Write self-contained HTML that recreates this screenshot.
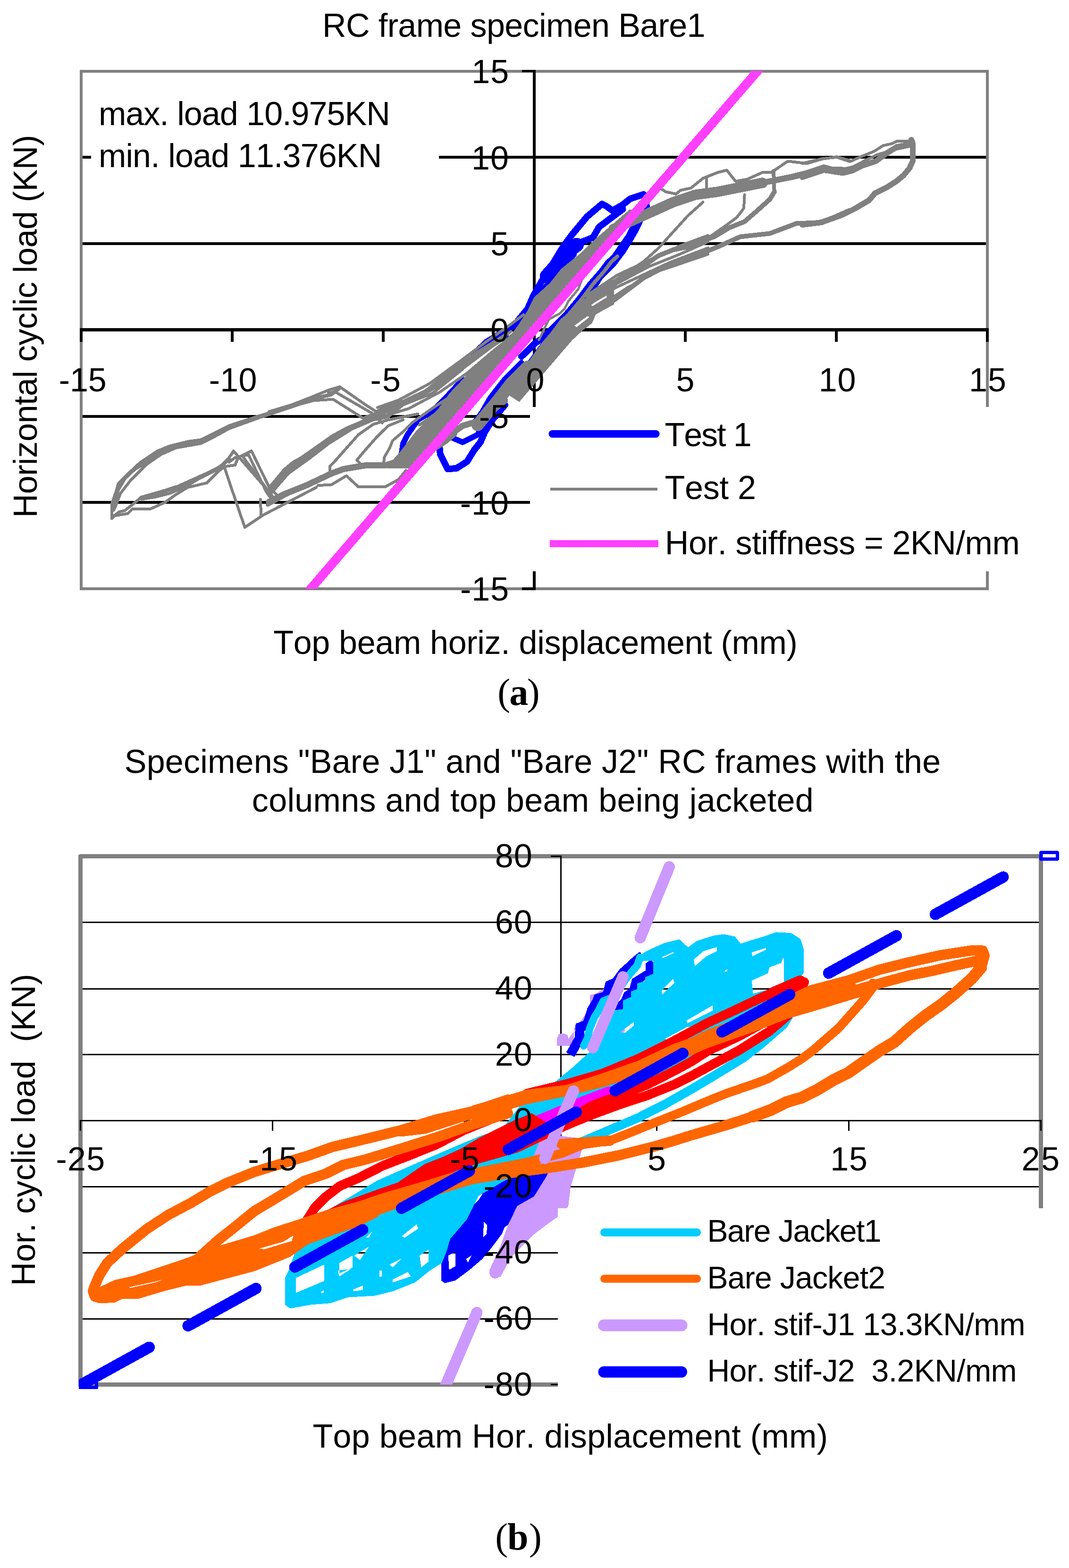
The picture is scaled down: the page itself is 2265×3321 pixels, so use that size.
<!DOCTYPE html>
<html lang="en"><head><meta charset="utf-8"><title>RC frame specimens - horizontal cyclic load vs displacement</title>
<style>
html,body{margin:0;padding:0;background:#fff;}
body{width:2265px;height:3321px;overflow:hidden;}
svg{display:block;font-family:'Liberation Sans', Arial, Helvetica, sans-serif;}
</style></head><body>
<svg xmlns="http://www.w3.org/2000/svg" width="2265" height="3321" viewBox="0 0 2265 3321">
<defs>
<pattern id="pk" width="4" height="2" patternUnits="userSpaceOnUse"><rect width="4" height="2" fill="#ff00ff"/><rect x="0" y="0" width="1" height="1" fill="#fff"/><rect x="2" y="1" width="1" height="1" fill="#fff"/></pattern>
<clipPath id="clipA"><rect x="175" y="150.5" width="1914" height="1096.5"/></clipPath>
<clipPath id="clipB"><rect x="175" y="1813.5" width="2026" height="1119"/></clipPath>
<clipPath id="clipD"><rect x="167" y="1790" width="2098" height="1152"/></clipPath>
</defs>
<rect x="0" y="0" width="2265" height="3321" fill="#fff"/>
<g id="chart-a" shape-rendering="crispEdges" style="font-kerning:none">
<rect x="169.00" y="147.50" width="6.00" height="1102.50" fill="#808080"/>
<rect x="169.00" y="147.50" width="1926.00" height="6.00" fill="#808080"/>
<rect x="169.00" y="1244.00" width="1926.00" height="6.00" fill="#808080"/>
<rect x="2089.00" y="147.50" width="6.00" height="1102.50" fill="#808080"/>
<rect x="175.00" y="330.25" width="1914.00" height="6.00" fill="#000"/>
<rect x="175.00" y="513.00" width="1914.00" height="6.00" fill="#000"/>
<rect x="175.00" y="878.50" width="1914.00" height="6.00" fill="#000"/>
<rect x="175.00" y="1061.25" width="1914.00" height="6.00" fill="#000"/>
<rect x="169.00" y="695.45" width="1926.00" height="6.60" fill="#000"/>
<rect x="169.20" y="698.75" width="6.00" height="25.55" fill="#000"/>
<rect x="489.30" y="698.75" width="6.00" height="25.55" fill="#000"/>
<rect x="809.30" y="698.75" width="6.00" height="25.55" fill="#000"/>
<rect x="1129.30" y="698.75" width="6.00" height="25.55" fill="#000"/>
<rect x="1449.30" y="698.75" width="6.00" height="25.55" fill="#000"/>
<rect x="1769.30" y="698.75" width="6.00" height="25.55" fill="#000"/>
<rect x="2089.30" y="698.75" width="6.00" height="25.55" fill="#000"/>
<rect x="1129.00" y="148.00" width="6.00" height="1102.00" fill="#000"/>
<rect x="1106.00" y="147.75" width="29.00" height="5.50" fill="#000"/>
<rect x="1106.00" y="1244.00" width="29.00" height="6.00" fill="#000"/>
<g clip-path="url(#clipA)">
<polyline points="850.8,961.8 853.9,939.7 863.4,920.8 885.5,889.3 917.0,870.3 942.2,845.1 980.1,804.1" fill="none" stroke="#0000ff" stroke-width="12" stroke-linejoin="round" stroke-linecap="round" />
<polyline points="863.4,958.7 885.5,939.7 917.0,917.7 942.2,895.6" fill="none" stroke="#0000ff" stroke-width="10" stroke-linejoin="round" stroke-linecap="round" />
<polyline points="926.5,898.7 932.8,961.8 948.5,993.4 967.5,991.8 989.6,977.6 1005.3,952.4 1017.9,936.6 1027.4,914.5 1043.2,889.3 1070.0,857.7" fill="none" stroke="#0000ff" stroke-width="14" stroke-linejoin="round" stroke-linecap="round" />
<polyline points="926.5,898.7 954.9,895.6 958.0,927.1 980.1,936.6 1011.6,920.8 1027.4,889.3 1070.0,832.5" fill="none" stroke="#0000ff" stroke-width="12" stroke-linejoin="round" stroke-linecap="round" />
<polyline points="1004.1,749.1 1032.5,723.8 1057.7,708.1 1089.3,689.1 1117.7,654.4 1130.3,626.1 1155.5,581.9 1174.4,553.5 1193.4,522.0 1212.3,496.7 1243.8,458.9 1275.4,432.1 1284.9,436.8 1297.5,446.2 1319.6,433.6 1335.3,421.0 1363.7,411.5 1370.0,436.8 1347.9,484.1 1335.3,506.2 1319.6,531.4 1300.6,556.7 1272.2,585.0 1243.8,629.2 1215.5,651.3 1183.9,682.8 1152.4,714.4 1133.4,727.0 1105.0,755.1" fill="none" stroke="#0000ff" stroke-width="14" stroke-linejoin="round" stroke-linecap="round" />
<polyline points="1193.4,522.0 1224.9,515.6 1256.5,503.0 1269.1,480.9 1294.3,462.0 1319.6,443.1" fill="none" stroke="#0000ff" stroke-width="14" stroke-linejoin="round" stroke-linecap="round" />
<polyline points="1158.7,585.0 1183.9,556.7 1209.1,528.3 1221.8,518.8" fill="none" stroke="#0000ff" stroke-width="30" stroke-linejoin="round" stroke-linecap="round" />
<polyline points="1120.8,657.6 1152.4,613.4 1183.9,575.6 1215.5,537.7" fill="none" stroke="#0000ff" stroke-width="14" stroke-linejoin="round" stroke-linecap="round" />
<polyline points="1120.0,770.0 1156.9,720.0 1181.0,683.9 1203.9,658.0 1226.6,630.9 1249.3,600.6 1272.0,574.8 1287.0,555.0 1300.0,543.0 1330.0,500.0 1350.0,460.0" fill="none" stroke="#0000ff" stroke-width="9" stroke-linejoin="round" stroke-linecap="round" />
<polyline points="1007.6,746.1 1029.7,724.0 1056.2,708.5 1073.8,715.1" fill="none" stroke="#0000ff" stroke-width="12" stroke-linejoin="round" stroke-linecap="round" />
<polyline points="1104.7,768.1 1069.4,803.5 1038.5,843.2 1020.8,874.1 1007.6,891.8" fill="none" stroke="#0000ff" stroke-width="12" stroke-linejoin="round" stroke-linecap="round" />
<polyline points="237.2,1098.0 237.2,1065.5 245.7,1041.8 250.4,1024.5 274.1,1000.8 296.2,980.3 334.0,955.1 359.3,944.7 400.3,934.6 425.5,931.4 447.6,920.4 485.5,901.5 548.5,880.9 611.6,862.6 670.0,841.5" fill="none" stroke="#808080" stroke-width="6" stroke-linejoin="round" stroke-linecap="round" />
<polyline points="243.2,1076.5 255.2,1045.0 277.3,1016.6 308.8,985.0 340.3,963.0 371.9,948.8 425.5,939.3 453.9,925.1 485.5,907.8 548.5,885.0 670.0,844.7" fill="none" stroke="#808080" stroke-width="6" stroke-linejoin="round" stroke-linecap="round" />
<polyline points="237.2,1098.0 239.4,1093.9 252.0,1084.4 264.6,1081.3 286.7,1063.9 299.3,1052.9 343.5,1040.3 378.2,1029.2 409.7,1015.0 441.3,1000.8 466.5,988.2 485.5,969.3 494.9,955.1 567.5,1038.7 580.1,1057.6" fill="none" stroke="#808080" stroke-width="6" stroke-linejoin="round" stroke-linecap="round" />
<polyline points="237.2,1098.0 242.6,1092.3 270.9,1087.6 280.4,1078.1 318.3,1078.1 349.8,1063.9 371.9,1048.1 397.1,1032.4 438.1,1022.9 463.4,997.7 476.0,988.2 498.1,985.0 504.4,969.3 532.8,955.1 570.6,1032.4 592.7,1054.4" fill="none" stroke="#808080" stroke-width="6" stroke-linejoin="round" stroke-linecap="round" />
<polyline points="299.3,1057.6 327.7,1052.9 359.3,1045.0 390.8,1032.4 422.4,1013.4 453.9,997.7 472.8,985.0 494.9,956.7" fill="none" stroke="#808080" stroke-width="6" stroke-linejoin="round" stroke-linecap="round" />
<polyline points="476.0,991.4 518.6,1116.9 558.0,1090.7 670.0,1032.4" fill="none" stroke="#808080" stroke-width="6" stroke-linejoin="round" stroke-linecap="round" />
<polyline points="551.7,1057.6 553.3,1092.3" fill="none" stroke="#808080" stroke-width="6" stroke-linejoin="round" stroke-linecap="round" />
<polyline points="567.5,1068.6 611.6,1045.0 670.0,1016.6" fill="none" stroke="#808080" stroke-width="9" stroke-linejoin="round" stroke-linecap="round" />
<polyline points="570.6,1032.4 602.2,994.5 621.1,978.7 670.0,951.9" fill="none" stroke="#808080" stroke-width="6" stroke-linejoin="round" stroke-linecap="round" />
<polyline points="513.8,966.1 576.9,1051.3" fill="none" stroke="#808080" stroke-width="6" stroke-linejoin="round" stroke-linecap="round" />
<polyline points="485.5,978.7 498.1,969.3 526.5,963.0 564.3,1041.8 580.1,1063.9" fill="none" stroke="#808080" stroke-width="6" stroke-linejoin="round" stroke-linecap="round" />
<polyline points="570.0,871.9 617.3,857.7 661.5,840.4 696.2,826.2 719.8,819.2 775.0,857.7 797.1,871.9 828.7,856.2 853.9,851.4 901.2,829.3 948.5,794.6 1011.6,747.3 1070.0,709.5" fill="none" stroke="#808080" stroke-width="6" stroke-linejoin="round" stroke-linecap="round" />
<polyline points="570.0,878.2 617.3,860.9 664.6,848.3 705.6,845.7 775.0,889.3 797.1,883.0 822.4,870.3 869.7,851.4 917.0,823.0 980.1,775.7 1070.0,715.8" fill="none" stroke="#808080" stroke-width="6" stroke-linejoin="round" stroke-linecap="round" />
<polyline points="696.2,832.5 708.8,829.3 790.8,876.7 809.7,895.6" fill="none" stroke="#808080" stroke-width="6" stroke-linejoin="round" stroke-linecap="round" />
<polyline points="570.0,1040.7 607.9,990.2 648.9,961.8 702.5,924.0 734.0,906.6 775.0,889.3 803.4,886.1 828.7,857.7" fill="none" stroke="#808080" stroke-width="6" stroke-linejoin="round" stroke-linecap="round" />
<polyline points="570.0,1050.2 611.0,1002.8 655.2,971.3 696.2,939.7 746.7,908.2 790.8,889.3 822.4,883.0 853.9,857.7 917.0,832.5 980.1,782.0" fill="none" stroke="#808080" stroke-width="6" stroke-linejoin="round" stroke-linecap="round" />
<polyline points="699.3,1002.8 699.3,987.1 708.8,977.6 734.0,949.2 759.3,920.8 790.8,898.7 822.4,889.3 853.9,883.0 885.5,876.7" fill="none" stroke="#808080" stroke-width="6" stroke-linejoin="round" stroke-linecap="round" />
<polyline points="762.4,980.8 756.1,974.4 771.9,955.5 797.1,927.1 822.4,901.9 853.9,889.3" fill="none" stroke="#808080" stroke-width="6" stroke-linejoin="round" stroke-linecap="round" />
<polyline points="812.9,980.8 814.5,968.1 825.5,949.2 831.8,933.4 853.9,914.5 872.8,895.6 917.0,864.0 961.2,835.6 1011.6,778.9" fill="none" stroke="#808080" stroke-width="6" stroke-linejoin="round" stroke-linecap="round" />
<polyline points="570.0,1062.8 601.5,1047.0 648.9,1028.1 702.5,1002.8 727.7,993.4 775.0,985.5 816.1,985.5 853.9,974.4 872.8,965.0" fill="none" stroke="#808080" stroke-width="13" stroke-linejoin="round" stroke-linecap="round" />
<polyline points="674.1,1028.1 702.5,1026.5 734.0,1007.6 759.3,1031.2 816.1,1031.2 844.4,1015.5 860.2,996.5" fill="none" stroke="#808080" stroke-width="6" stroke-linejoin="round" stroke-linecap="round" />
<polyline points="920.2,920.8 920.2,898.7 942.2,876.7 945.4,860.9 964.3,835.6" fill="none" stroke="#808080" stroke-width="6" stroke-linejoin="round" stroke-linecap="round" />
<polyline points="958.0,917.7 980.1,901.9 1011.6,892.4 1043.2,870.3 1070.0,848.3" fill="none" stroke="#808080" stroke-width="13" stroke-linejoin="round" stroke-linecap="round" />
<path d="M880.0,990.0 L820.0,990.0 L850.0,956.5 L881.5,915.5 L928.9,868.0 L954.0,833.4 L985.6,800.0 L1010.0,775.0 L1040.0,748.0 L1075.1,720.0 L1097.9,691.4 L1117.5,661.1 L1132.7,630.9 L1166.0,600.6 L1190.2,570.3 L1228.0,540.0 L1265.0,505.0 L1300.0,475.0 L1335.0,445.0 L1350.7,445.0 L1065.8,775.0Z" fill="#808080" fill-rule="evenodd" stroke="#808080" stroke-width="3" stroke-linejoin="round"/>
<polyline points="1141.8,720.0 1163.0,676.3 1185.7,664.2 1196.3,653.6 1203.9,638.4 1225.0,612.7 1234.0,590.0 1249.3,570.3 1270.0,540.0 1290.0,505.0 1310.0,470.0" fill="none" stroke="#808080" stroke-width="5" stroke-linejoin="round" stroke-linecap="round" />
<polyline points="1164.9,720.0 1189.0,683.9 1211.9,658.0 1234.6,630.9 1257.3,600.6 1280.0,574.8 1295.0,555.0 1308.0,543.0" fill="none" stroke="#808080" stroke-width="8" stroke-linejoin="round" stroke-linecap="round" />
<path d="M1070.0,830.0 L1100.0,795.0 L1125.0,760.0 L1150.0,725.0 L1166.0,706.6 L1188.7,676.3 L1211.4,658.1 L1235.7,636.9 L1256.9,618.7 L1279.6,603.6 L1300.0,593.0 L1300.0,644.5 L1279.6,655.0 L1261.4,665.7 L1253.8,683.9 L1234.0,699.0 L1211.4,720.0 L1190.0,745.0 L1160.0,780.0 L1130.0,815.0 L1100.0,850.0Z M1215.0,690.0 L1245.0,668.0 L1250.0,672.0 L1222.0,694.0Z M1250.0,645.0 L1285.0,625.0 L1287.0,630.0 L1255.0,650.0Z" fill="#808080" fill-rule="evenodd" stroke="#808080" stroke-width="2" stroke-linejoin="round"/>
<polyline points="1300.0,485.0 1363.1,456.7 1426.2,428.3 1473.5,412.5 1520.8,406.2 1568.1,396.7 1615.5,387.3" fill="none" stroke="#808080" stroke-width="22" stroke-linejoin="round" stroke-linecap="round" />
<polyline points="1615.5,387.3 1678.5,374.6 1741.6,358.9 1800.0,360.4" fill="none" stroke="#808080" stroke-width="13" stroke-linejoin="round" stroke-linecap="round" />
<polyline points="1400.9,399.9 1410.4,406.2 1432.5,410.9 1442.0,403.0 1464.0,398.3 1489.3,377.8 1520.8,365.2 1539.7,360.4 1558.7,384.1 1583.9,379.4 1615.5,365.2 1634.4,365.2 1669.1,341.5 1710.1,346.2 1741.6,336.8 1773.2,332.1 1800.0,339.9" fill="none" stroke="#808080" stroke-width="6" stroke-linejoin="round" stroke-linecap="round" />
<polyline points="1497.2,374.6 1497.2,412.5" fill="none" stroke="#808080" stroke-width="6" stroke-linejoin="round" stroke-linecap="round" />
<polyline points="1639.1,362.0 1640.7,406.2 1631.2,422.0 1599.7,450.3 1577.6,469.3 1546.1,481.9 1514.5,500.8 1489.3,510.3 1457.7,522.9 1426.2,529.2 1394.6,541.8 1363.1,563.9 1300.0,598.6" fill="none" stroke="#808080" stroke-width="8" stroke-linejoin="round" stroke-linecap="round" />
<polyline points="1577.6,412.5 1576.0,440.9 1561.8,459.8 1536.6,478.7 1505.0,500.8" fill="none" stroke="#808080" stroke-width="6" stroke-linejoin="round" stroke-linecap="round" />
<polyline points="1489.3,428.3 1457.7,456.7 1426.2,491.4 1394.6,526.1 1363.1,554.4 1300.0,595.5" fill="none" stroke="#808080" stroke-width="6" stroke-linejoin="round" stroke-linecap="round" />
<polyline points="1800.0,447.2 1741.6,472.4 1688.0,472.4 1631.2,494.5 1568.1,500.8 1520.8,522.9 1457.7,548.1 1410.4,563.9 1363.1,589.1 1300.0,636.5" fill="none" stroke="#808080" stroke-width="8" stroke-linejoin="round" stroke-linecap="round" />
<polyline points="1700.0,346.1 1742.9,336.0 1773.2,333.0 1800.9,342.3 1826.2,330.9 1851.4,320.9 1871.6,308.2 1889.3,304.4 1901.9,298.6 1927.1,298.6" fill="none" stroke="#808080" stroke-width="6" stroke-linejoin="round" stroke-linecap="round" />
<polyline points="1700.0,375.1 1745.4,360.0 1785.8,366.3 1806.0,361.2 1826.2,351.1 1856.5,341.0 1876.7,325.9 1896.8,313.3 1927.1,307.0 1933.4,300.7" fill="none" stroke="#808080" stroke-width="12" stroke-linejoin="round" stroke-linecap="round" />
<polyline points="1700.0,366.3 1745.4,351.1 1778.2,360.0 1806.0,353.7 1831.2,341.0 1856.5,328.4 1876.7,322.1 1899.4,308.2 1927.1,303.2" fill="none" stroke="#808080" stroke-width="6" stroke-linejoin="round" stroke-linecap="round" />
<polyline points="1930.9,296.1 1933.9,304.4 1933.9,341.0 1927.1,356.2 1914.5,371.3 1899.4,383.9 1879.2,396.6 1853.9,409.2 1841.3,424.3 1811.0,442.0 1785.8,454.6 1740.4,471.0 1700.0,476.1" fill="none" stroke="#808080" stroke-width="12" stroke-linejoin="round" stroke-linecap="round" />
<polyline points="800.0,863.1 844.2,847.6 910.4,812.3 976.7,763.7 1029.7,724.0 1073.8,693.1 1109.1,666.6" fill="none" stroke="#808080" stroke-width="6" stroke-linejoin="round" stroke-linecap="round" />
<polyline points="800.0,874.1 853.0,856.5 914.8,825.6 985.5,777.0 1038.5,737.2 1082.6,701.9" fill="none" stroke="#808080" stroke-width="6" stroke-linejoin="round" stroke-linecap="round" />
<polyline points="800.0,885.2 866.2,865.3 932.5,830.0 989.9,790.2 1047.3,741.6 1091.5,706.3" fill="none" stroke="#808080" stroke-width="6" stroke-linejoin="round" stroke-linecap="round" />
<polyline points="888.3,900.2 932.5,869.7 967.8,830.0 1007.6,785.8 1047.3,746.1 1082.6,710.7" fill="none" stroke="#808080" stroke-width="6" stroke-linejoin="round" stroke-linecap="round" />
<polyline points="1219.6,666.6 1285.8,618.0 1352.1,587.1 1418.3,556.2 1500.0,525.2" fill="none" stroke="#808080" stroke-width="6" stroke-linejoin="round" stroke-linecap="round" />
<polyline points="1241.6,644.5 1307.9,600.3 1374.1,565.0 1440.4,538.5 1500.0,512.0" fill="none" stroke="#808080" stroke-width="6" stroke-linejoin="round" stroke-linecap="round" />
<polyline points="1197.5,697.5 1263.7,653.3 1330.0,609.1 1396.2,573.8 1500.0,538.5" fill="none" stroke="#808080" stroke-width="6" stroke-linejoin="round" stroke-linecap="round" />
<polyline points="1241.6,626.8 1307.9,582.6 1374.1,551.7 1440.4,520.8 1500.0,498.7" fill="none" stroke="#808080" stroke-width="6" stroke-linejoin="round" stroke-linecap="round" />
<polyline points="1118.0,777.0 1082.6,812.3 1051.7,852.1 1029.7,878.5 1012.0,900.2" fill="none" stroke="#808080" stroke-width="26" stroke-linejoin="round" stroke-linecap="round" />
<polyline points="240.0,1079.7 242.6,1057.6 250.4,1035.5 264.6,1011.9 286.7,991.4 305.6,981.9 337.2,958.9 365.6,946.6 400.3,936.8 425.5,935.2 450.8,922.6 485.5,904.6 548.5,882.8 611.6,862.6 670.0,843.1" fill="none" stroke="#808080" stroke-width="9" stroke-linejoin="round" stroke-linecap="round" />
<polyline points="299.3,1054.4 343.5,1042.5 378.2,1030.8 409.7,1016.6 441.3,1002.4 466.5,988.8 485.5,972.4" fill="none" stroke="#808080" stroke-width="8" stroke-linejoin="round" stroke-linecap="round" />
<polyline points="570.0,1045.4 609.4,996.5 652.0,966.6 699.3,931.9 740.3,907.3 784.5,889.3 816.1,883.6 847.6,857.7 885.5,842.0 948.5,791.5 1011.6,747.3" fill="none" stroke="#808080" stroke-width="8" stroke-linejoin="round" stroke-linecap="round" />
<polyline points="570.0,875.1 617.3,859.3 663.1,844.5 700.9,836.0 718.3,823.0" fill="none" stroke="#808080" stroke-width="8" stroke-linejoin="round" stroke-linecap="round" />
<polyline points="853.9,977.6 885.5,965.0 917.0,949.2 942.2,933.4 961.2,917.7" fill="none" stroke="#808080" stroke-width="16" stroke-linejoin="round" stroke-linecap="round" />
<polyline points="771.9,886.1 797.1,876.7 828.7,857.7 853.9,851.4 901.2,829.3 948.5,794.6 1011.6,747.3 1070.0,711.0" fill="none" stroke="#808080" stroke-width="9" stroke-linejoin="round" stroke-linecap="round" />
<polyline points="1800.0,445.6 1741.6,471.5 1688.0,473.1 1631.2,494.5 1568.1,501.5 1520.8,522.9 1457.7,548.1 1410.4,563.9 1363.1,589.1 1300.0,636.5" fill="none" stroke="#808080" stroke-width="10" stroke-linejoin="round" stroke-linecap="round" />
<polyline points="1640.7,406.2 1631.2,422.0 1599.7,450.3 1577.6,469.3 1546.1,481.9 1514.5,500.8 1489.3,510.3 1457.7,522.9 1426.2,529.2 1394.6,541.8 1363.1,563.9 1300.0,598.6" fill="none" stroke="#808080" stroke-width="10" stroke-linejoin="round" stroke-linecap="round" />
<line x1="611.9" y1="1300.6" x2="1651.9" y2="96.2" stroke="url(#pk)" stroke-width="19"/>
</g>
<rect x="193" y="195" width="737" height="185" fill="#fff"/>
<rect x="1122.5" y="862" width="1100" height="348" fill="#fff"/>
<line x1="1170.5" y1="919" x2="1389.5" y2="919" stroke="#0000ff" stroke-width="16" stroke-linecap="round" shape-rendering="auto"/>
<rect x="1166.00" y="1033.00" width="227.00" height="6.00" fill="#808080"/>
<rect x="1165" y="1143.5" width="230" height="15.5" fill="url(#pk)"/>
</g>
<g id="labels-a" fill="#000" style="font-kerning:none">
<text x="683.06" y="78.00" font-size="70" letter-spacing="-0.604" xml:space="preserve" >RC frame specimen Bare1</text>
<text x="208.95" y="265.00" font-size="70" letter-spacing="-0.966" xml:space="preserve" >max. load 10.975KN</text>
<text x="208.95" y="353.60" font-size="70" letter-spacing="-0.857" xml:space="preserve" >min. load 11.376KN</text>
<text x="999.28" y="175.80" font-size="70" letter-spacing="1.000" xml:space="preserve" >15</text>
<text x="999.07" y="358.55" font-size="70" letter-spacing="1.000" xml:space="preserve" >10</text>
<text x="1039.21" y="541.30" font-size="70" letter-spacing="0.000" xml:space="preserve" >5</text>
<text x="1039.00" y="724.05" font-size="70" letter-spacing="0.000" xml:space="preserve" >0</text>
<text x="1014.90" y="906.80" font-size="70" letter-spacing="1.000" xml:space="preserve" >-5</text>
<text x="974.76" y="1089.55" font-size="70" letter-spacing="1.000" xml:space="preserve" >-10</text>
<text x="974.97" y="1272.30" font-size="70" letter-spacing="1.000" xml:space="preserve" >-15</text>
<text x="124.69" y="828.50" font-size="70" letter-spacing="-0.111" xml:space="preserve" >-15</text>
<text x="442.69" y="828.50" font-size="70" letter-spacing="0.286" xml:space="preserve" >-10</text>
<text x="784.39" y="828.50" font-size="70" letter-spacing="2.309" xml:space="preserve" >-5</text>
<text x="1114.40" y="828.50" font-size="70" letter-spacing="0.000" xml:space="preserve" >0</text>
<text x="1432.51" y="828.50" font-size="70" letter-spacing="0.000" xml:space="preserve" >5</text>
<text x="1734.67" y="828.50" font-size="70" letter-spacing="1.000" xml:space="preserve" >10</text>
<text x="2053.08" y="828.50" font-size="70" letter-spacing="1.000" xml:space="preserve" >15</text>
<text x="1408.43" y="945.10" font-size="70" letter-spacing="-2.045" xml:space="preserve" >Test 1</text>
<text x="1408.43" y="1057.20" font-size="70" letter-spacing="-0.225" xml:space="preserve" >Test 2</text>
<text x="1408.86" y="1174.00" font-size="70" letter-spacing="-0.391" xml:space="preserve" >Hor. stiffness = 2KN/mm</text>
<text x="579.23" y="1385.10" font-size="70" letter-spacing="-0.308" xml:space="preserve" >Top beam horiz. displacement (mm)</text>
<text x="-1096.54" y="78.00" font-size="70" letter-spacing="-0.381" xml:space="preserve" transform="rotate(-90)" >Horizontal cyclic load (KN)</text>
<text font-family="'Liberation Serif', 'Times New Roman', serif" font-size="80.5" y="1492.7"><tspan x="1054.3">(</tspan><tspan x="1079.2" y="1492.7" font-weight="bold" font-size="80">a</tspan><tspan x="1116.7" y="1492.7">)</tspan></text>
</g>
<g shape-rendering="crispEdges">
<rect x="2089.00" y="760.00" width="6.00" height="102.00" fill="#808080"/>
</g>
<g id="chart-b" shape-rendering="crispEdges" style="font-kerning:none">
<path d="M170.5,2937.0 V1813.5 H2209.9" fill="none" stroke="#808080" stroke-width="9" stroke-linejoin="round"/>
<rect x="166.00" y="2928.00" width="2043.90" height="9.00" fill="#808080"/>
<rect x="2200.90" y="1809.00" width="9.00" height="1128.00" fill="#808080"/>
<rect x="175.00" y="1952.00" width="2026.00" height="3.00" fill="#000"/>
<rect x="175.00" y="2093.00" width="2026.00" height="3.00" fill="#000"/>
<rect x="175.00" y="2232.00" width="2026.00" height="3.00" fill="#000"/>
<rect x="175.00" y="2512.00" width="2026.00" height="3.00" fill="#000"/>
<rect x="175.00" y="2652.00" width="2026.00" height="3.00" fill="#000"/>
<rect x="175.00" y="2792.00" width="2026.00" height="3.00" fill="#000"/>
<rect x="169.40" y="2372.00" width="2037.60" height="3.00" fill="#000"/>
<rect x="169.20" y="2373.50" width="3.00" height="21.50" fill="#000"/>
<rect x="576.16" y="2373.50" width="3.00" height="21.50" fill="#000"/>
<rect x="983.12" y="2373.50" width="3.00" height="21.50" fill="#000"/>
<rect x="1390.08" y="2373.50" width="3.00" height="21.50" fill="#000"/>
<rect x="1797.04" y="2373.50" width="3.00" height="21.50" fill="#000"/>
<rect x="2204.10" y="2373.50" width="3.00" height="21.50" fill="#000"/>
<rect x="1186.90" y="1812.00" width="3.00" height="1123.50" fill="#000"/>
<rect x="1167.00" y="1812.00" width="22.90" height="3.00" fill="#000"/>
<rect x="1167.00" y="2931.00" width="22.90" height="3.00" fill="#000"/>
<g clip-path="url(#clipB)">
<path d="M1250.0,2131.7 L1250.0,2107.1 L1261.4,2105.2 L1282.2,2092.0 L1284.1,2109.0 L1259.5,2110.9 L1257.6,2129.8Z" fill="#cc99ff" fill-rule="evenodd"/>
<path d="M1216.0,2184.7 L1246.2,2139.3 L1246.2,2154.4 L1242.5,2167.7 L1216.0,2177.1Z" fill="#cc99ff" fill-rule="evenodd"/>
<path d="M1183.8,2190.4 L1193.2,2188.5 L1202.7,2192.3 L1204.6,2200.0 L1216.0,2184.7 L1216.0,2215.0 L1180.0,2215.0 L1180.0,2200.0Z" fill="#cc99ff" fill-rule="evenodd"/>
<path d="M1304.9,2190.4 L1323.8,2177.1 L1323.8,2184.7 L1308.7,2192.3Z" fill="#cc99ff" fill-rule="evenodd"/>
<path d="M1140.0,2400.0 L1240.0,2412.0 L1224.0,2465.0 L1209.0,2514.0 L1204.0,2556.0 L1181.0,2578.0 L1162.0,2591.0 L1128.0,2617.0 L1109.0,2636.0 L1085.0,2660.0 L1060.0,2705.0 L1040.0,2700.0 L1037.0,2690.0 L1060.0,2640.0 L1078.0,2590.0 L1070.0,2540.0 L1063.0,2500.0 L1100.0,2450.0Z" fill="#cc99ff" fill-rule="evenodd"/>
<polyline points="1208.4,2233.9 1227.3,2200.0 1229.2,2175.2 1244.4,2169.6 1253.8,2139.3 1265.2,2120.3 1267.1,2114.7 1286.0,2109.0 1291.7,2086.3 1304.9,2080.6 1320.1,2059.8 1337.1,2044.6 1342.8,2039.0 1354.1,2029.5 1361.7,2023.8" fill="none" stroke="#0000ff" stroke-width="20" stroke-linejoin="miter" stroke-linecap="butt" />
<polyline points="1286.0,2158.2 1303.0,2139.3 1312.5,2131.7 1323.8,2120.3 1329.5,2107.1 1340.9,2099.5 1346.6,2078.7 1361.7,2069.2 1376.8,2059.8 1376.8,2044.6 1384.4,2039.0" fill="none" stroke="#0000ff" stroke-width="17" stroke-linejoin="miter" stroke-linecap="butt" />
<polyline points="1356.0,2141.2 1369.3,2131.7 1392.0,2120.3" fill="none" stroke="#0000ff" stroke-width="17" stroke-linejoin="miter" stroke-linecap="butt" />
<path d="M1101.3,2522.7 L1097.5,2530.3 L1078.5,2575.7 L1063.4,2613.6 L1040.7,2643.8 L1021.8,2666.6 L995.3,2689.3 L965.0,2712.0 L942.3,2717.7 L934.7,2712.0 L934.7,2624.9 L927.1,2613.6 L957.4,2590.9 L987.7,2568.1 L1014.2,2541.6 L1033.1,2511.4 L1052.1,2492.4Z M949.8,2659.0 L965.0,2651.4 L965.0,2681.7 L951.7,2689.3Z M1025.6,2575.7 L1033.1,2568.1 L1031.2,2613.6 L1023.7,2621.1Z M1052.1,2545.4 L1057.7,2537.9 L1055.8,2587.1 L1050.2,2594.6Z M987.7,2666.6 L999.1,2659.0 L991.5,2674.1Z" fill="#0000ff" fill-rule="evenodd"/>
<path d="M1040.0,2515.0 L1064.8,2502.6 L1115.3,2482.4 L1166.0,2470.0 L1155.6,2492.5 L1130.4,2532.9 L1095.0,2553.0 L1075.0,2593.4 L1050.0,2610.0 L1020.0,2580.0Z" fill="#0000ff" fill-rule="evenodd" stroke="#0000ff" stroke-width="3" stroke-linejoin="round"/>
<path d="M1117.0,2325.0 L1175.0,2295.0 L1215.0,2262.0 L1250.0,2230.0 L1274.6,2200.0 L1282.2,2177.1 L1293.6,2158.2 L1303.0,2141.2 L1322.0,2139.3 L1322.0,2120.4 L1339.0,2112.8 L1339.0,2101.4 L1352.2,2095.7 L1352.2,2084.4 L1369.3,2078.7 L1369.3,2071.1 L1386.3,2063.6 L1386.3,2033.3 L1362.0,2033.0 L1358.0,2025.0 L1368.0,2018.0 L1382.5,2010.6 L1407.7,1999.5 L1439.3,1991.6 L1448.7,2001.0 L1458.2,2009.0 L1477.0,1994.8 L1511.8,1983.7 L1534.0,1980.6 L1556.0,1985.3 L1568.6,2001.0 L1590.7,1993.8 L1622.2,1984.3 L1644.3,1976.4 L1675.9,1978.0 L1694.8,1990.6 L1701.0,2010.6 L1701.0,2059.9 L1691.6,2072.5 L1669.6,2082.0 L1690.0,2110.0 L1629.0,2160.0 L1565.0,2195.0 L1500.0,2226.0 L1427.0,2269.0 L1370.0,2298.0 L1314.0,2320.0 L1257.0,2341.0 L1198.0,2375.0 L1120.0,2420.0 L1060.0,2400.0Z M1398.3,2026.8 L1426.7,2014.1 L1431.4,2018.9 L1404.6,2031.5Z M1467.7,2031.5 L1489.7,2012.6 L1521.3,2003.1 L1521.3,2015.7 L1496.1,2028.3 L1470.8,2050.4Z M1590.7,2015.7 L1625.4,2004.7 L1625.4,2012.6 L1592.3,2028.3Z M1656.9,2028.3 L1663.2,2028.3 L1663.2,2082.0 L1628.5,2097.7 L1593.8,2107.2 L1590.7,2075.6 L1625.4,2059.9 L1628.5,2047.3 L1653.8,2037.8Z M1426.7,2069.3 L1431.4,2082.0 L1401.4,2110.3 L1399.8,2097.7Z M1511.8,2126.1 L1511.8,2141.9 L1455.0,2170.3 L1451.9,2160.8Z M1407.7,2198.7 L1455.0,2173.4 L1470.8,2173.4 L1414.0,2211.3Z M1344.6,2160.8 L1344.6,2173.4 L1325.7,2189.2 L1306.8,2189.2Z M1533.9,2053.6 L1543.4,2050.4 L1543.4,2058.3 L1533.9,2061.5Z" fill="#00ccff" fill-rule="evenodd" stroke="#00ccff" stroke-width="4" stroke-linejoin="round"/>
<polyline points="1356.0,2027.6 1350.3,2044.6 1339.0,2057.9 1327.6,2071.1 1312.5,2093.8 1297.4,2112.8 1278.4,2120.3 1269.0,2139.3 1259.5,2154.4 1250.0,2177.1 1244.4,2200.0 1236.8,2215.0" fill="none" stroke="#00ccff" stroke-width="16" stroke-linejoin="round" stroke-linecap="round" />
<polyline points="1200.0,2432.0 1275.7,2400.0 1351.4,2367.7 1408.0,2339.3 1465.0,2307.0 1500.0,2286.3 1576.0,2240.0 1614.0,2210.0 1660.0,2170.0 1690.0,2120.0" fill="none" stroke="#00ccff" stroke-width="19" stroke-linejoin="round" stroke-linecap="round" />
<path d="M611.5,2690.8 L603.7,2706.6 L603.7,2763.4 L614.7,2771.3 L658.9,2763.4 L699.9,2760.2 L737.7,2747.6 L794.5,2744.4 L832.4,2735.0 L879.7,2716.1 L911.2,2690.8 L936.5,2675.0 L946.0,2651.0 L954.0,2624.0 L989.0,2583.0 L1014.0,2533.0 L1065.0,2503.0 L1110.0,2480.0 L1130.0,2450.0 L1150.0,2400.0 L1080.0,2385.0 L1020.0,2405.0 L960.0,2430.0 L900.0,2456.0 L800.0,2500.0 L700.0,2560.0 L640.0,2610.0Z M627.3,2706.6 L687.3,2678.2 L687.3,2712.9 L627.3,2738.1Z M718.8,2675.0 L747.2,2659.3 L747.2,2684.5 L718.8,2697.1Z M750.3,2659.3 L781.9,2640.3 L769.3,2659.3 L763.0,2668.7Z M851.3,2618.3 L882.8,2593.0 L886.0,2602.5 L857.6,2621.4Z M826.1,2678.2 L851.3,2665.6 L832.4,2684.5Z M889.1,2659.3 L908.1,2646.7 L908.1,2671.9 L892.3,2684.5Z M832.4,2709.7 L863.9,2694.0 L870.2,2703.4 L832.4,2716.1Z M747.2,2731.8 L769.3,2722.4 L769.3,2731.8 L750.3,2735.0Z M804.0,2690.8 L808.7,2690.8 L808.7,2703.4 L804.0,2705.0Z M775.6,2621.4 L788.2,2608.8 L781.9,2621.4Z M715.6,2690.8 L744.0,2687.7 L718.8,2703.4Z M680.9,2735.0 L685.7,2733.4 L685.7,2738.1 L680.9,2738.8Z" fill="#00ccff" fill-rule="evenodd"/>
<polyline points="1085.0,2395.0 1160.0,2365.0 1230.0,2335.0 1290.0,2312.0" fill="none" stroke="#ff00ff" stroke-width="22" stroke-linejoin="round" stroke-linecap="round" />
<polyline points="660.0,2590.0 648.0,2588.0 667.0,2558.0 690.0,2535.0 720.0,2512.0 760.0,2495.0 811.0,2469.0 868.0,2447.0 925.0,2424.0 982.0,2394.0 1039.0,2371.0 1080.0,2340.0 1117.0,2316.0 1200.0,2296.0 1276.0,2274.0 1351.0,2243.0 1427.0,2205.0 1500.0,2166.0 1552.0,2142.0 1609.0,2115.0 1660.0,2092.0 1695.0,2077.0 1704.0,2080.0 1700.0,2090.0 1680.0,2120.0 1629.0,2160.0 1565.0,2195.0 1500.0,2225.7 1465.0,2248.4 1427.0,2269.0 1370.4,2297.6 1313.6,2320.0 1256.8,2341.0 1198.0,2375.0 1160.0,2400.0 1095.0,2431.0 1039.0,2447.0 963.0,2469.0 887.0,2500.0 811.0,2526.0 736.0,2553.0 660.0,2590.0" fill="none" stroke="#ff0000" stroke-width="20" stroke-linejoin="round" stroke-linecap="round" />
<polyline points="1670.0,2150.0 1629.0,2185.0 1565.0,2225.0 1500.0,2259.8 1465.0,2278.7 1427.0,2297.6 1370.4,2320.4 1313.6,2339.0 1256.8,2360.0 1200.0,2382.8 1160.0,2400.0" fill="none" stroke="#ff0000" stroke-width="20" stroke-linejoin="round" stroke-linecap="round" />
<polyline points="1640.0,2103.0 1670.0,2090.0 1695.0,2079.0" fill="none" stroke="#ff0000" stroke-width="26" stroke-linejoin="round" stroke-linecap="round" />
<polyline points="1100.0,2420.0 1160.0,2395.0 1230.0,2365.0 1290.0,2340.0" fill="none" stroke="#ff0000" stroke-width="30" stroke-linejoin="round" stroke-linecap="round" />
<path d="M652.0,2584.0 L700.0,2566.0 L760.0,2545.0 L830.0,2515.0 L900.0,2467.0 L938.0,2452.0 L975.7,2435.0 L1013.6,2412.5 L1051.0,2393.5 L1089.0,2374.6 L1127.0,2359.5 L1165.0,2384.0 L1127.0,2397.0 L1089.0,2414.4 L1066.6,2431.4 L1032.5,2456.0 L1004.0,2463.6 L956.8,2482.5 L900.0,2514.7 L830.0,2545.0 L760.0,2572.0 L700.0,2590.0 L660.0,2600.0Z" fill="#ff0000" fill-rule="evenodd" stroke="#ff0000" stroke-width="3" stroke-linejoin="round"/>
<path d="M1001.0,2343.0 L1060.0,2326.0 L1117.0,2309.0 L1200.0,2299.5 L1275.7,2275.0 L1351.4,2248.4 L1427.0,2212.5 L1465.0,2199.2 L1500.0,2182.0 L1600.0,2144.0 L1660.0,2115.0 L1715.0,2088.6 L1797.0,2067.0 L1830.0,2108.0 L1797.0,2118.0 L1731.0,2138.0 L1666.0,2157.0 L1600.0,2183.0 L1500.0,2218.0 L1465.0,2233.3 L1427.0,2248.4 L1351.4,2278.7 L1275.7,2301.4 L1200.0,2320.4 L1117.0,2337.0 L1060.0,2354.0 L1001.0,2386.0Z" fill="#ff6600" fill-rule="evenodd" stroke="#ff6600" stroke-width="3" stroke-linejoin="round"/>
<polyline points="201.0,2746.0 197.0,2735.0 199.0,2728.0 210.0,2702.0 227.0,2675.0 259.0,2645.0 311.0,2603.0 357.0,2573.0 406.0,2547.0 444.0,2524.0 482.0,2505.0 539.0,2482.0 595.0,2465.0 652.0,2448.0 705.0,2429.0 760.0,2416.0 849.0,2394.0 925.0,2371.0 1001.0,2354.0 1076.0,2329.0" fill="none" stroke="#ff6600" stroke-width="22" stroke-linejoin="round" stroke-linecap="round" />
<polyline points="1731.0,2101.7 1796.9,2077.0 1862.5,2054.0 1928.0,2037.7 1993.7,2023.0 2059.3,2013.0 2082.3,2013.5 2086.0,2024.0 2079.0,2049.2" fill="none" stroke="#ff6600" stroke-width="22" stroke-linejoin="round" stroke-linecap="round" />
<polyline points="2079.0,2049.2 2059.3,2072.2 2026.5,2101.7 1993.7,2128.0 1960.9,2150.9 1928.0,2177.2 1895.3,2206.7 1862.5,2226.4 1829.7,2249.3 1796.9,2272.3 1764.0,2288.7 1731.2,2308.4 1698.4,2324.8 1665.6,2334.6 1632.8,2351.0 1595.0,2365.0" fill="none" stroke="#ff6600" stroke-width="25" stroke-linejoin="round" stroke-linecap="round" />
<polyline points="1595.0,2365.0 1539.0,2383.0 1463.0,2405.0 1425.0,2417.0 1387.0,2428.0 1311.0,2447.0 1236.0,2462.0 1160.0,2474.0 1076.0,2485.0 1001.0,2497.0 887.0,2531.0 774.0,2572.0" fill="none" stroke="#ff6600" stroke-width="22" stroke-linejoin="round" stroke-linecap="round" />
<polyline points="2072.4,2034.4 2026.5,2044.3 1977.3,2055.8 1928.0,2065.6 1878.9,2078.7 1855.9,2085.3 1829.7,2091.9 1770.0,2112.0" fill="none" stroke="#ff6600" stroke-width="22" stroke-linejoin="round" stroke-linecap="round" />
<polyline points="849.0,2398.0 900.0,2392.0 975.0,2368.0 1040.0,2348.0" fill="none" stroke="#ff6600" stroke-width="19" stroke-linejoin="round" stroke-linecap="round" />
<polyline points="402.0,2694.0 425.0,2660.0 463.0,2626.0 501.0,2596.0 539.0,2565.0 576.0,2543.0 614.0,2520.0 645.0,2501.0 690.0,2486.0 728.0,2467.0 774.0,2456.0 849.0,2433.0 925.0,2409.0 1001.0,2382.0 1076.0,2358.0" fill="none" stroke="#ff6600" stroke-width="22" stroke-linejoin="round" stroke-linecap="round" />
<polyline points="1849.3,2082.0 1849.3,2091.9 1829.7,2118.0 1803.4,2147.6 1777.2,2177.2 1750.9,2200.0 1724.7,2223.0 1698.4,2242.8 1672.2,2259.2 1649.2,2272.3 1626.2,2285.4 1600.0,2295.0 1539.0,2316.0 1500.0,2331.7 1446.0,2354.4 1389.3,2377.0 1332.5,2400.0 1292.0,2416.0 1236.0,2424.0 1190.0,2443.0 1114.0,2462.0 1039.0,2477.0 963.0,2492.0 887.0,2515.0 811.0,2537.0 760.0,2556.0" fill="none" stroke="#ff6600" stroke-width="19" stroke-linejoin="round" stroke-linecap="round" />
<path d="M203.0,2732.0 L243.3,2713.0 L285.0,2703.7 L330.3,2688.5 L387.0,2669.6 L402.3,2664.0 L462.8,2641.0 L538.5,2618.5 L576.4,2603.3 L633.2,2584.4 L690.0,2565.5 L760.0,2546.6 L800.0,2533.0 L800.0,2575.0 L760.0,2595.8 L709.0,2612.8 L652.0,2633.6 L614.3,2660.0 L576.4,2675.3 L538.5,2690.4 L481.8,2705.5 L425.0,2720.7 L394.7,2720.7 L349.3,2732.0 L292.5,2749.0 L258.4,2749.0 L243.3,2756.7 L212.0,2758.5 L199.0,2754.8 L193.0,2744.0Z M270.0,2725.0 L330.0,2712.0 L385.0,2697.0 L330.0,2718.0 L275.0,2730.0Z M540.0,2645.0 L600.0,2628.0 L625.0,2612.0 L620.0,2630.0 L560.0,2648.0Z" fill="#ff6600" fill-rule="evenodd" stroke="#ff6600" stroke-width="4" stroke-linejoin="round"/>
<polyline points="1190.0,2423.0 1236.0,2420.0 1292.0,2416.0" fill="none" stroke="#ff6600" stroke-width="22" stroke-linejoin="round" stroke-linecap="round" />
<polyline points="1356.5,1986.0 1418.0,1836.0" fill="none" stroke="#cc99ff" stroke-width="24" stroke-linejoin="round" stroke-linecap="round" />
<polyline points="1256.0,2219.0 1320.0,2069.0" fill="none" stroke="#cc99ff" stroke-width="24" stroke-linejoin="round" stroke-linecap="round" />
<polyline points="1154.4,2453.6 1215.0,2310.7" fill="none" stroke="#cc99ff" stroke-width="24" stroke-linejoin="round" stroke-linecap="round" />
<polyline points="944.0,2935.0 1010.4,2780.0" fill="none" stroke="#cc99ff" stroke-width="24" stroke-linejoin="round" stroke-linecap="round" />
<polyline points="1049.0,2696.0 1085.0,2612.0" fill="none" stroke="#cc99ff" stroke-width="24" stroke-linejoin="round" stroke-linecap="round" />
</g>
<line x1="172.3" y1="2932.6" x2="2205.4" y2="1813.5" stroke="#0000ff" stroke-width="24" stroke-linecap="round" stroke-dasharray="164 94.2" clip-path="url(#clipD)"/>
<rect x="2205.5" y="1805.6" width="34.7" height="13.7" fill="none" stroke="#0000ff" stroke-width="7" stroke-linejoin="round"/>
<rect x="170.5" y="2925" width="34" height="13.5" fill="none" stroke="#0000ff" stroke-width="7" stroke-linejoin="round"/>
<rect x="1182" y="2559" width="1083" height="400" fill="#fff"/>
<line x1="1280.5" y1="2610.3" x2="1476.5" y2="2610.3" stroke="#00ccff" stroke-width="17" stroke-linecap="round" shape-rendering="auto"/>
<line x1="1280.5" y1="2708.3" x2="1476.5" y2="2708.3" stroke="#ff6600" stroke-width="17" stroke-linecap="round" shape-rendering="auto"/>
<line x1="1279.5" y1="2807" x2="1444" y2="2807" stroke="#cc99ff" stroke-width="25" stroke-linecap="round" shape-rendering="auto"/>
<line x1="1279.5" y1="2905.7" x2="1444" y2="2905.7" stroke="#0000ff" stroke-width="24" stroke-linecap="round" shape-rendering="auto"/>
</g>
<g id="labels-b" fill="#000" style="font-kerning:none">
<text x="263.72" y="1636.60" font-size="70" letter-spacing="0.227" xml:space="preserve" >Specimens &quot;Bare J1&quot; and &quot;Bare J2&quot; RC frames with the</text>
<text x="533.83" y="1719.00" font-size="70" letter-spacing="0.317" xml:space="preserve" >columns and top beam being jacketed</text>
<text x="1048.87" y="1837.00" font-size="70" letter-spacing="1.000" xml:space="preserve" >80</text>
<text x="1048.87" y="1977.00" font-size="70" letter-spacing="1.000" xml:space="preserve" >60</text>
<text x="1048.87" y="2117.00" font-size="70" letter-spacing="1.000" xml:space="preserve" >40</text>
<text x="1048.87" y="2257.00" font-size="70" letter-spacing="1.000" xml:space="preserve" >20</text>
<text x="1088.80" y="2395.50" font-size="70" letter-spacing="0.000" xml:space="preserve" >0</text>
<text x="1024.56" y="2535.50" font-size="70" letter-spacing="1.000" xml:space="preserve" >-20</text>
<text x="1024.56" y="2675.50" font-size="70" letter-spacing="1.000" xml:space="preserve" >-40</text>
<text x="1024.56" y="2816.00" font-size="70" letter-spacing="1.000" xml:space="preserve" >-60</text>
<text x="1024.56" y="2956.00" font-size="70" letter-spacing="1.000" xml:space="preserve" >-80</text>
<text x="118.49" y="2479.30" font-size="70" letter-spacing="1.239" xml:space="preserve" >-25</text>
<text x="525.39" y="2479.30" font-size="70" letter-spacing="1.639" xml:space="preserve" >-15</text>
<text x="952.89" y="2479.30" font-size="70" letter-spacing="0.609" xml:space="preserve" >-5</text>
<text x="1372.01" y="2479.30" font-size="70" letter-spacing="0.000" xml:space="preserve" >5</text>
<text x="1759.18" y="2479.30" font-size="70" letter-spacing="1.000" xml:space="preserve" >15</text>
<text x="2164.48" y="2479.30" font-size="70" letter-spacing="2.599" xml:space="preserve" >25</text>
<text x="1498.49" y="2630.00" font-size="66" letter-spacing="-1.470" xml:space="preserve" >Bare Jacket1</text>
<text x="1498.49" y="2729.00" font-size="66" letter-spacing="-0.697" xml:space="preserve" >Bare Jacket2</text>
<text x="1498.49" y="2828.00" font-size="66" letter-spacing="-0.559" xml:space="preserve" >Hor. stif-J1 13.3KN/mm</text>
<text x="1498.49" y="2925.80" font-size="66" letter-spacing="-0.542" xml:space="preserve" >Hor. stif-J2  3.2KN/mm</text>
<text x="662.43" y="3066.10" font-size="70" letter-spacing="0.339" xml:space="preserve" >Top beam Hor. displacement (mm)</text>
<text x="-2723.44" y="74.00" font-size="70" letter-spacing="0.164" xml:space="preserve" transform="rotate(-90)" >Hor. cyclic load  (KN)</text>
<text font-family="'Liberation Serif', 'Times New Roman', serif" font-size="80.4" y="3281.7"><tspan x="1049.2">(</tspan><tspan x="1075.0" y="3282.0" font-weight="bold" font-size="80">b</tspan><tspan x="1120.9" y="3281.7">)</tspan></text>
</g>
<g shape-rendering="crispEdges">
<rect x="2200.90" y="2400.00" width="9.00" height="159.00" fill="#808080"/>
</g>
</svg>
</body></html>
